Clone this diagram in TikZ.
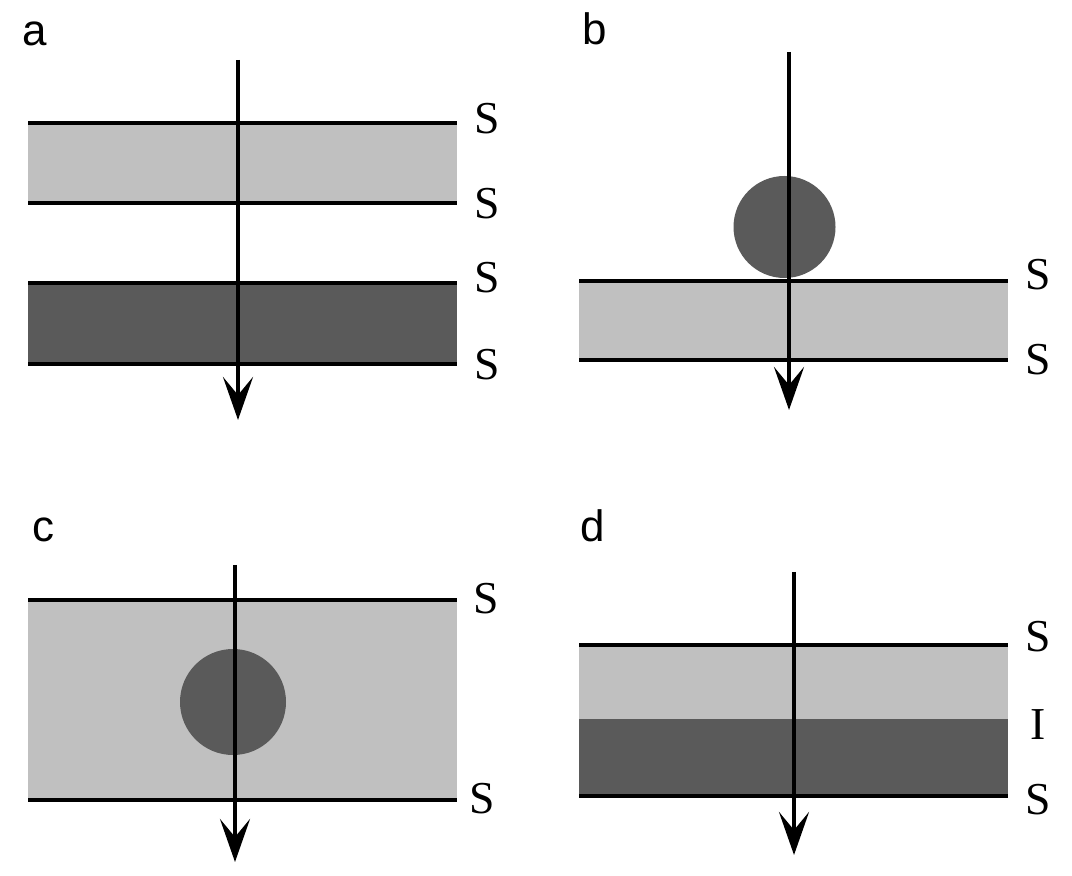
\documentclass[tikz,border=0pt]{standalone}
\usepackage{fontspec}
\setmainfont{Liberation Serif}
\newfontfamily\panelfont{Liberation Sans}
\usetikzlibrary{positioning,arrows.meta}
\definecolor{lightlayer}{RGB}{192,192,192}
\definecolor{darklayer}{RGB}{90,90,90}

\begin{document}
\begin{tikzpicture}[
    surface/.style={line width=1.2pt},
    beam/.style={line width=1.2pt, -{Stealth[length=0.43cm, width=0.30cm, inset=0.18cm]}},
    particle/.style={fill=darklayer},
    panel/.style={anchor=base west, inner sep=0pt, font=\panelfont\fontsize{12.5}{15}\selectfont},
    side/.style={inner sep=0pt, font=\fontsize{13}{15}\selectfont}
]
\useasboundingbox (0,0) rectangle (10.72,8.75);

% Panel a
\node[panel] (lab a) at (0.22,8.29) {a};
\fill[lightlayer] (0.28,6.72) rectangle (4.57,7.52);
\fill[darklayer] (0.28,5.11) rectangle (4.57,5.92);
\foreach \y in {7.52,6.72,5.92,5.11}
    \draw[surface] (0.28,\y) -- (4.57,\y);
\node[side] (a s1) at (4.87,7.56) {S};
\node[side] (a s2) at (4.87,6.71) {S};
\node[side] (a s3) at (4.87,5.97) {S};
\node[side] (a s4) at (4.87,5.10) {S};
\coordinate (a top) at (2.38,8.15);
\coordinate (a bot) at (2.38,4.55);
\draw[beam] (a top) -- (a bot);

% Panel b
\node[panel] (lab b) at (5.82,8.30) {b};
\fill[lightlayer] (5.79,5.15) rectangle (10.08,5.94);
\foreach \y in {5.94,5.15}
    \draw[surface] (5.79,\y) -- (10.08,\y);
\fill[particle] (7.845,6.48) circle (0.51);
\node[side] (b s1) at (10.38,6.00) {S};
\node[side] (b s2) at (10.38,5.15) {S};
\coordinate (b top) at (7.89,8.23);
\coordinate (b bot) at (7.89,4.65);
\draw[beam] (b top) -- (b bot);

% Panel c
\node[panel] (lab c) at (0.32,3.33) {c};
\fill[lightlayer] (0.28,0.75) rectangle (4.57,2.75);
\foreach \y in {2.75,0.75}
    \draw[surface] (0.28,\y) -- (4.57,\y);
\fill[particle] (2.33,1.73) circle (0.53);
\node[side] (c s1) at (4.86,2.76) {S};
\node[side] (c s2) at (4.82,0.76) {S};
\coordinate (c top) at (2.35,3.10);
\coordinate (c bot) at (2.35,0.13);
\draw[beam] (c top) -- (c bot);

% Panel d
\node[panel] (lab d) at (5.80,3.33) {d};
\fill[lightlayer] (5.79,1.56) rectangle (10.08,2.30);
\fill[darklayer] (5.79,0.79) rectangle (10.08,1.56);
\foreach \y in {2.30,0.79}
    \draw[surface] (5.79,\y) -- (10.08,\y);
\node[side] (d s1) at (10.38,2.38) {S};
\node[side] (d i) at (10.38,1.50) {I};
\node[side] (d s2) at (10.38,0.75) {S};
\coordinate (d top) at (7.94,3.03);
\coordinate (d bot) at (7.94,0.20);
\draw[beam] (d top) -- (d bot);

\end{tikzpicture}
\end{document}
